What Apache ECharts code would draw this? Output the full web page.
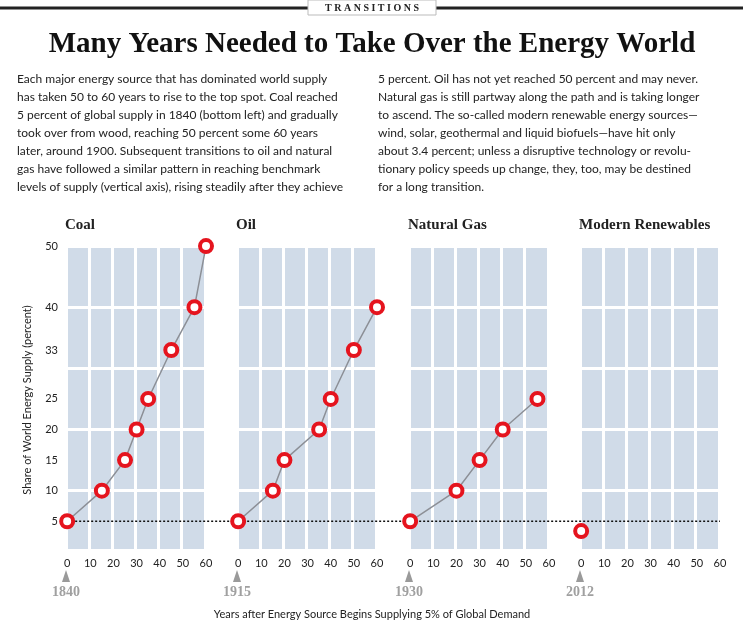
<!DOCTYPE html>
<html><head><meta charset="utf-8">
<script src="https://cdn.jsdelivr.net/npm/echarts@6/dist/echarts.min.js"></script>
<style>
body{margin:0;background:#fff;}
#main{width:743px;height:643px;}
</style></head>
<body><div id="main"></div>
<script>
// 数据
var panels = ['Coal', 'Oil', 'Natural Gas', 'Modern Renewables'];
var startYears = ['1840', '1915', '1930', '2012'];
var coal = [[0,5],[15,10],[25,15],[30,20],[35,25],[45,33],[55,40],[60,50]];
var oil = [[0,5],[15,10],[20,15],[35,20],[40,25],[50,33],[60,40]];
var gas = [[0,5],[20,10],[30,15],[40,20],[55,25]];
var renew = [[0,3.4]];
var yTicks = [5,10,15,20,25,33,40,50];
var xTicks = [0,10,20,30,40,50,60];

var allData = [coal, oil, gas, renew];
var lefts = [66, 237, 409, 580];
var serif = '"Liberation Serif", "DejaVu Serif", serif';
var sans = 'Lato, "Liberation Sans", sans-serif';

var grids = [], xAxes = [], yAxes = [], series = [];
for (var i = 0; i < 4; i++) {
    grids.push({left: lefts[i], width: 140, top: 243, height: 307, show: true,
        backgroundColor: '#d0dbe8', borderWidth: 0});
    xAxes.push({type: 'value', gridIndex: i, min: -0.5, max: 60, interval: 10,
        axisLine: {show: false}, axisTick: {show: false},
        axisLabel: {customValues: xTicks, color: '#222', fontFamily: sans, fontSize: 11, margin: 8},
        splitLine: {show: true, lineStyle: {color: '#fff', width: 3}}});
    yAxes.push({type: 'value', gridIndex: i, min: 0.3, max: 50.5,
        axisLine: {show: false}, axisTick: {show: false},
        axisLabel: {show: i == 0, customValues: yTicks, color: '#222', fontFamily: sans, fontSize: 11, margin: 8},
        splitLine: {show: true, customValues: yTicks, lineStyle: {color: '#fff', width: 3}}});
    series.push({type: 'line', xAxisIndex: i, yAxisIndex: i, data: allData[i],
        lineStyle: {color: '#8c8f96', width: 1.5},
        symbol: 'circle', symbolSize: 12,
        itemStyle: {color: '#fff', borderColor: '#e5141e', borderWidth: 4},
        z: 5});
}

var graphics = [
    {type: 'line', shape: {x1: 0, y1: 8, x2: 743, y2: 8}, style: {stroke: '#222', lineWidth: 3}},
    {type: 'rect', shape: {x: 308, y: 0, width: 128, height: 15}, style: {fill: '#fff', stroke: '#bbb', lineWidth: 1}},
    {type: 'text', x: 372, y: 8, style: {text: 'T R A N S I T I O N S', font: 'bold 10px ' + serif, fill: '#222', align: 'center', verticalAlign: 'middle'}},
    {type: 'text', x: 372, y: 45, style: {text: 'Many Years Needed to Take Over the Energy World', font: 'bold 29px ' + serif, fill: '#111', align: 'center', verticalAlign: 'middle'}},
    {type: 'text', x: 17, y: 70, style: {text: 'Each major energy source that has dominated world supply\nhas taken 50 to 60 years to rise to the top spot. Coal reached\n5 percent of global supply in 1840 (bottom left) and gradually\ntook over from wood, reaching 50 percent some 60 years\nlater, around 1900. Subsequent transitions to oil and natural\ngas have followed a similar pattern in reaching benchmark\nlevels of supply (vertical axis), rising steadily after they achieve', font: '12px ' + sans, fill: '#222', lineHeight: 18}},
    {type: 'text', x: 378, y: 70, style: {text: '5 percent. Oil has not yet reached 50 percent and may never.\nNatural gas is still partway along the path and is taking longer\nto ascend. The so-called modern renewable energy sources—\nwind, solar, geothermal and liquid biofuels—have hit only\nabout 3.4 percent; unless a disruptive technology or revolu-\ntionary policy speeds up change, they, too, may be destined\nfor a long transition.', font: '12px ' + sans, fill: '#222', lineHeight: 18}},
    {type: 'text', x: 27, y: 400, rotation: Math.PI / 2, style: {text: 'Share of World Energy Supply (percent)', font: '11px ' + sans, fill: '#222', align: 'center', verticalAlign: 'middle'}},
    {type: 'text', x: 372, y: 614, style: {text: 'Years after Energy Source Begins Supplying 5% of Global Demand', font: '11px ' + sans, fill: '#222', align: 'center', verticalAlign: 'middle'}}
];
for (var i = 0; i < 4; i++) {
    graphics.push({type: 'text', x: lefts[i] - 1, y: 225, style: {text: panels[i], font: 'bold 15px ' + serif, fill: '#222', verticalAlign: 'middle'}});
    graphics.push({type: 'polygon', shape: {points: [[lefts[i] - 4, 582], [lefts[i] + 4, 582], [lefts[i], 570]]}, style: {fill: '#9a9a9a'}});
    graphics.push({type: 'text', x: lefts[i], y: 592, style: {text: startYears[i], font: 'bold 14px ' + serif, fill: '#a0a0a0', align: 'center', verticalAlign: 'middle'}});
}

var chart = echarts.init(document.getElementById('main'));
chart.setOption({
    animation: false,
    grid: grids, xAxis: xAxes, yAxis: yAxes, series: series, graphic: graphics
});

// 5% 虚线，横跨四个面板
var p0 = chart.convertToPixel({xAxisIndex: 0, yAxisIndex: 0}, [0, 5]);
var p1 = chart.convertToPixel({xAxisIndex: 3, yAxisIndex: 3}, [60, 5]);
graphics.push({type: 'line', z: 3, shape: {x1: p0[0], y1: p0[1], x2: p1[0], y2: p1[1]},
    style: {stroke: '#111', lineWidth: 1.5, lineDash: [2, 2]}});
chart.setOption({graphic: graphics});
</script>
</body></html>
